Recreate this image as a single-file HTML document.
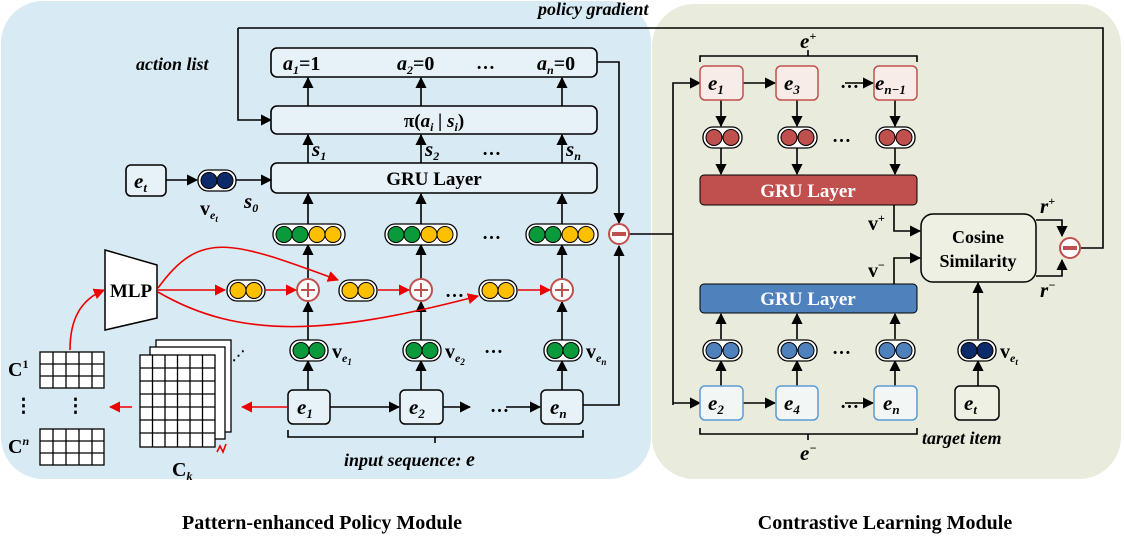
<!DOCTYPE html>
<html><head><meta charset="utf-8"><style>
body{margin:0;background:#fff}
svg{display:block;font-family:"Liberation Serif",serif;font-weight:bold}
.i{font-style:italic}
</style></head><body>
<svg width="1124" height="539" viewBox="0 0 1124 539" xmlns="http://www.w3.org/2000/svg">
<defs>
<marker id="a" viewBox="0 0 10 10" refX="9" refY="5" markerWidth="7" markerHeight="7" orient="auto"><path d="M0,0L10,5L0,10z" fill="#000"/></marker>
<marker id="r" viewBox="0 0 10 10" refX="9" refY="5" markerWidth="7" markerHeight="7" orient="auto"><path d="M0,0L10,5L0,10z" fill="#e00"/></marker>
</defs>
<rect x="1" y="1" width="650" height="478" rx="42" fill="#d8eaf3"/>
<rect x="652" y="4" width="469" height="475" rx="42" fill="#e9ecdc"/>
<g stroke="#000" stroke-width="1.6" fill="none">
<polyline points="238,28 1103,28 1103,248 1081,248"/>
<polyline points="238,28 238,120 271,120" marker-end="url(#a)"/>
<rect x="271" y="48" width="326" height="29" rx="6" fill="#e6f2f8"/>
<rect x="271" y="106" width="326" height="28" rx="6" fill="#e6f2f8"/>
<rect x="271" y="163" width="326" height="30" rx="6" fill="#e6f2f8"/>
<rect x="126" y="165" width="40" height="31" rx="5" fill="#e6f2f8"/>
<line x1="166" y1="180" x2="197" y2="180" marker-end="url(#a)"/>
<line x1="236" y1="180" x2="271" y2="180" marker-end="url(#a)"/>
<polyline points="597,62 619,62 619,223" marker-end="url(#a)"/>
<line x1="629" y1="234" x2="673" y2="234"/>
<polyline points="673,405 673,83 700,83" marker-end="url(#a)"/>
<line x1="673" y1="403" x2="700" y2="403" marker-end="url(#a)"/>
<polyline points="583,405 619,405 619,246" marker-end="url(#a)"/>
<line x1="330" y1="407" x2="399" y2="407" marker-end="url(#a)"/>
<line x1="443" y1="407" x2="470" y2="407" marker-end="url(#a)"/>
<line x1="506" y1="407" x2="540" y2="407" marker-end="url(#a)"/>
<polyline points="288,430 288,437 583,437 583,430"/><line x1="435" y1="437" x2="435" y2="443"/>
</g>
<g stroke="#000" stroke-width="1.6" fill="none">
<g id="col">
<line x1="308" y1="106" x2="308" y2="78" marker-end="url(#a)"/>
<line x1="308" y1="163" x2="308" y2="135" marker-end="url(#a)"/>
<line x1="308" y1="224" x2="308" y2="194" marker-end="url(#a)"/>
<line x1="308" y1="279" x2="308" y2="245" marker-end="url(#a)"/>
<line x1="308" y1="340" x2="308" y2="302" marker-end="url(#a)"/>
<line x1="308" y1="390" x2="308" y2="361" marker-end="url(#a)"/>
</g>
<use href="#col" x="113"/><use href="#col" x="254"/>
</g>
<g id="p4"><rect x="273" y="224" width="72" height="21" rx="10" fill="#fff" stroke="#000" stroke-width="1.3"/>
<circle cx="284" cy="234.5" r="8" fill="#0a9a3c" stroke="#000"/><circle cx="300" cy="234.5" r="8" fill="#0a9a3c" stroke="#000"/><circle cx="317" cy="234.5" r="8" fill="#fcc000" stroke="#000"/><circle cx="333" cy="234.5" r="8" fill="#fcc000" stroke="#000"/></g>
<use href="#p4" x="112"/><use href="#p4" x="253"/>
<g id="py"><rect x="227" y="280" width="38" height="21" rx="10" fill="#fff" stroke="#000" stroke-width="1.3"/><circle cx="238" cy="290.5" r="8" fill="#fcc000" stroke="#000"/><circle cx="254" cy="290.5" r="8" fill="#fcc000" stroke="#000"/></g>
<use href="#py" x="112"/><use href="#py" x="252"/>
<g id="pg"><rect x="290" y="340" width="38" height="21" rx="10" fill="#fff" stroke="#000" stroke-width="1.3"/><circle cx="301" cy="350.5" r="8" fill="#0a9a3c" stroke="#000"/><circle cx="317" cy="350.5" r="8" fill="#0a9a3c" stroke="#000"/></g>
<use href="#pg" x="113"/><use href="#pg" x="254"/>
<g id="pd"><rect x="198" y="170" width="38" height="21" rx="10" fill="#fff" stroke="#000" stroke-width="1.3"/><circle cx="209" cy="180.5" r="8" fill="#0d2a6b" stroke="#000"/><circle cx="225" cy="180.5" r="8" fill="#0d2a6b" stroke="#000"/></g>
<g id="pl"><circle cx="308" cy="290" r="11" fill="#fff" stroke="#c0504d" stroke-width="2"/><path d="M301,290h14M308,283v14" stroke="#c0504d" stroke-width="2"/></g>
<use href="#pl" x="113"/><use href="#pl" x="254"/>
<circle cx="619" cy="234" r="10" fill="#fff" stroke="#c0504d" stroke-width="2"/><rect x="612" y="232" width="14" height="4" fill="#c0504d"/>
<circle cx="1070" cy="248" r="10" fill="#fff" stroke="#c0504d" stroke-width="2"/><rect x="1063" y="246" width="14" height="4" fill="#c0504d"/>
<polygon points="105,250 157,265 157,318 105,330" fill="#fff" stroke="#000" stroke-width="1.5"/>
<text x="131" y="297" font-size="19" text-anchor="middle">MLP</text>
<g stroke="#e00" stroke-width="1.6" fill="none">
<line x1="157" y1="290" x2="225" y2="290" marker-end="url(#r)"/>
<line x1="265" y1="290" x2="296" y2="290" marker-end="url(#r)"/>
<line x1="378" y1="290" x2="409" y2="290" marker-end="url(#r)"/>
<line x1="518" y1="290" x2="550" y2="290" marker-end="url(#r)"/>
<path d="M158,288 C200,230 230,240 338,280" marker-end="url(#r)"/>
<path d="M158,292 C240,340 330,335 478,296" marker-end="url(#r)"/>
<path d="M70,350 C70,320 80,300 104,290" marker-end="url(#r)"/>
<line x1="287" y1="407" x2="242" y2="407" marker-end="url(#r)"/>
<line x1="132" y1="407" x2="110" y2="407" marker-end="url(#r)"/>
<path d="M217,452 l3,-6 l3,6 l3,-8"/>
</g>
<g stroke="#000" stroke-width="1.3" fill="#fff">
<g id="gr"><rect x="40" y="352" width="64" height="36"/><path d="M53,352v36M66,352v36M79,352v36M92,352v36M40,364h64M40,376h64" fill="none"/></g>
<use href="#gr" y="77"/>
<rect x="156" y="340" width="75" height="92"/>
<rect x="150" y="347" width="75" height="92"/>
<rect x="140" y="355" width="75" height="92"/>
<path d="M152.5,355v92M165,355v92M177.5,355v92M190,355v92M202.5,355v92M140,368h75M140,381h75M140,394h75M140,407h75M140,420h75M140,433h75" fill="none"/>
</g>
<g stroke="#000" stroke-width="1.5" fill="#e6f2f8">
<rect x="288" y="390" width="42" height="34" rx="5"/><rect x="400" y="390" width="43" height="34" rx="5"/><rect x="541" y="390" width="42" height="34" rx="5"/>
</g>
<g stroke="#000" stroke-width="1.6" fill="none">
<line x1="743" y1="83" x2="775" y2="83" marker-end="url(#a)"/>
<line x1="845" y1="83" x2="873" y2="83" marker-end="url(#a)"/>
<line x1="743" y1="403" x2="775" y2="403" marker-end="url(#a)"/>
<line x1="845" y1="403" x2="873" y2="403" marker-end="url(#a)"/>
<polyline points="700,62 700,56 917,56 917,62"/><line x1="808" y1="56" x2="808" y2="50"/>
<polyline points="700,428 700,434 917,434 917,428"/><line x1="808" y1="434" x2="808" y2="440"/>
<g id="rc"><line x1="721" y1="100" x2="721" y2="126" marker-end="url(#a)"/><line x1="721" y1="148" x2="721" y2="174" marker-end="url(#a)"/>
<line x1="721" y1="339" x2="721" y2="314" marker-end="url(#a)"/><line x1="721" y1="386" x2="721" y2="361" marker-end="url(#a)"/></g>
<use href="#rc" x="76"/><use href="#rc" x="174"/>
<polyline points="894,205 894,231 920,231" marker-end="url(#a)"/>
<polyline points="894,284 894,258 920,258" marker-end="url(#a)"/>
<line x1="978" y1="386" x2="978" y2="361" marker-end="url(#a)"/>
<line x1="978" y1="339" x2="978" y2="283" marker-end="url(#a)"/>
<polyline points="1036,220 1062,220 1062,236" marker-end="url(#a)"/>
<polyline points="1036,276 1062,276 1062,260" marker-end="url(#a)"/>
</g>
<g stroke="#c0504d" stroke-width="1.5" fill="#f7ece8">
<rect x="700" y="66" width="43" height="34" rx="5"/><rect x="776" y="66" width="42" height="34" rx="5"/><rect x="874" y="66" width="43" height="34" rx="5"/></g>
<g stroke="#5b9bd5" stroke-width="1.5" fill="#f2f6f5">
<rect x="700" y="386" width="43" height="34" rx="5"/><rect x="776" y="386" width="42" height="34" rx="5"/><rect x="874" y="386" width="43" height="34" rx="5"/></g>
<g id="pr"><rect x="703" y="127" width="39" height="21" rx="10" fill="#fff" stroke="#000" stroke-width="1.3"/><circle cx="714" cy="137.5" r="8" fill="#c0504d" stroke="#000"/><circle cx="731" cy="137.5" r="8" fill="#c0504d" stroke="#000"/></g>
<use href="#pr" x="75"/><use href="#pr" x="173"/>
<g id="pb"><rect x="703" y="340" width="39" height="21" rx="10" fill="#fff" stroke="#000" stroke-width="1.3"/><circle cx="714" cy="350.5" r="8" fill="#4f81bd" stroke="#000"/><circle cx="731" cy="350.5" r="8" fill="#4f81bd" stroke="#000"/></g>
<use href="#pb" x="75"/><use href="#pb" x="173"/>
<use href="#pd" x="760" y="170"/>
<rect x="700" y="175" width="217" height="30" rx="4" fill="#c0504d" stroke="#000"/>
<rect x="700" y="284" width="217" height="29" rx="4" fill="#4f81bd" stroke="#000"/>
<rect x="921" y="214" width="115" height="68" rx="12" fill="#eef0e4" stroke="#000" stroke-width="1.5"/>
<rect x="955" y="386" width="44" height="34" rx="5" fill="#eef0e4" stroke="#000" stroke-width="1.5"/>
<g font-size="19">
<text x="434" y="185" text-anchor="middle">GRU Layer</text>
<text x="808" y="197" text-anchor="middle" fill="#fff">GRU Layer</text>
<text x="808" y="305" text-anchor="middle" fill="#fff">GRU Layer</text>
<text x="978" y="243" text-anchor="middle" font-size="18">Cosine</text>
<text x="978" y="267" text-anchor="middle" font-size="18">Similarity</text>
<text x="434" y="127" text-anchor="middle">π(<tspan class="i">a<tspan font-size="12" dy="4">i</tspan><tspan dy="-4"> | s</tspan><tspan font-size="12" dy="4">i</tspan></tspan><tspan dy="-4">)</tspan></text>
<g class="i" font-size="20"><text x="283" y="70">a<tspan font-size="12" dy="4">1</tspan><tspan dy="-4" font-style="normal">=1</tspan></text>
<text x="397" y="70">a<tspan font-size="12" dy="4">2</tspan><tspan dy="-4" font-style="normal">=0</tspan></text>
<text x="537" y="70">a<tspan font-size="12" dy="4">n</tspan><tspan dy="-4" font-style="normal">=0</tspan></text></g>
<text x="476" y="69">…</text><text x="482" y="155">…</text><text x="482" y="239">…</text><text x="445" y="297">…</text><text x="484" y="353">…</text><text x="490" y="412">…</text>
<text x="840" y="88">…</text><text x="832" y="142">…</text><text x="832" y="354">…</text><text x="840" y="408">…</text>
<g class="i" font-size="21">
<text x="312" y="156">s<tspan font-size="12" dy="4">1</tspan></text>
<text x="425" y="156">s<tspan font-size="12" dy="4">2</tspan></text>
<text x="566" y="156">s<tspan font-size="12" dy="4">n</tspan></text>
<text x="244" y="208">s<tspan font-size="12" dy="4">0</tspan></text>
<text x="134" y="188">e<tspan font-size="13" dy="4">t</tspan></text>
<text x="297" y="414">e<tspan font-size="13" dy="4">1</tspan></text>
<text x="409" y="414">e<tspan font-size="13" dy="4">2</tspan></text>
<text x="550" y="414">e<tspan font-size="13" dy="4">n</tspan></text>
<text x="708" y="90">e<tspan font-size="13" dy="4">1</tspan></text>
<text x="784" y="90">e<tspan font-size="13" dy="4">3</tspan></text>
<text x="875" y="90">e<tspan font-size="13" dy="4">n−1</tspan></text>
<text x="708" y="410">e<tspan font-size="13" dy="4">2</tspan></text>
<text x="784" y="410">e<tspan font-size="13" dy="4">4</tspan></text>
<text x="883" y="410">e<tspan font-size="13" dy="4">n</tspan></text>
<text x="964" y="410">e<tspan font-size="13" dy="4">t</tspan></text>
<text x="800" y="48">e<tspan font-size="12" dy="-8">+</tspan></text>
<text x="800" y="460">e<tspan font-size="12" dy="-8">−</tspan></text>
<text x="1040" y="213">r<tspan font-size="12" dy="-8">+</tspan></text>
<text x="1040" y="297">r<tspan font-size="12" dy="-8">−</tspan></text>
<text x="136" y="70" font-size="18">action list</text>
<text x="538" y="15" font-size="18">policy gradient</text>
<text x="344" y="466" font-size="18">input  sequence: <tspan font-size="20">e</tspan></text>
<text x="922" y="444" font-size="18">target item</text>
</g>
<text x="200" y="215" font-size="20">v<tspan class="i" font-size="12" dy="4">e<tspan font-size="9" dy="3">t</tspan></tspan></text>
<text x="1000" y="358" font-size="20">v<tspan class="i" font-size="12" dy="4">e<tspan font-size="9" dy="3">t</tspan></tspan></text>
<text x="332" y="358" font-size="20">v<tspan class="i" font-size="12" dy="4">e<tspan font-size="9" dy="3">1</tspan></tspan></text>
<text x="445" y="358" font-size="20">v<tspan class="i" font-size="12" dy="4">e<tspan font-size="9" dy="3">2</tspan></tspan></text>
<text x="586" y="358" font-size="20">v<tspan class="i" font-size="12" dy="4">e<tspan font-size="9" dy="3">n</tspan></tspan></text>
<text x="868" y="230" font-size="20">v<tspan font-size="12" dy="-8">+</tspan></text>
<text x="868" y="277" font-size="20">v<tspan font-size="12" dy="-8">−</tspan></text>
<text x="8" y="376" font-size="20">C<tspan font-size="12" dy="-8">1</tspan></text>
<text x="8" y="453" font-size="20">C<tspan font-size="12" dy="-8" class="i">n</tspan></text>
<text x="14" y="412">⋮</text><text x="66" y="412">⋮</text><text x="232" y="360" font-size="13">⋰</text>
<text x="172" y="476" font-size="20">C<tspan class="i" font-size="12" dy="4">k</tspan></text>
</g>
<g font-size="20">
<text x="322" y="529" text-anchor="middle">Pattern-enhanced Policy Module</text>
<text x="885" y="529" text-anchor="middle">Contrastive Learning Module</text>
</g>
</svg>
</body></html>
